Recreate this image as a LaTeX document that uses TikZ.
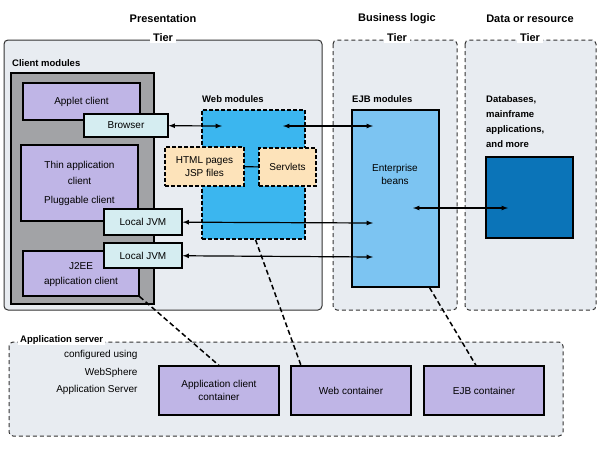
\documentclass[tikz,border=0pt]{standalone}
\usepackage{fontspec}
\setmainfont{Liberation Sans}
\usetikzlibrary{positioning, arrows}
\definecolor{tierbg}{HTML}{E8ECF1}
\definecolor{clientgray}{HTML}{A2A3A6}
\definecolor{modpurple}{HTML}{BFB5E6}
\definecolor{jvmblue}{HTML}{D5EDF1}
\definecolor{webblue}{HTML}{3BB6EF}
\definecolor{ejbblue}{HTML}{7CC4F2}
\definecolor{pagebeige}{HTML}{FDE3BA}
\definecolor{datablue}{HTML}{0B74B8}
\tikzset{
  tier/.style={draw=black!80, fill=tierbg, rounded corners=4pt, line width=1pt},
  dtier/.style={tier, dash pattern=on 4pt off 3pt},
  title/.style={font=\bfseries\fontsize{11}{12}\selectfont, align=center},
  lbl/.style={font=\bfseries\fontsize{9.5}{11}\selectfont, anchor=west, inner sep=0pt},
  txt/.style={font=\fontsize{10}{13}\selectfont, align=center},
  box/.style={draw, line width=1.1pt, txt},
  conn/.style={latex-latex, line width=1.2pt},
  link/.style={dash pattern=on 5pt off 3pt, line width=1.5pt}
}
\begin{document}
\begin{tikzpicture}[x=1pt, y=-1pt]
\useasboundingbox (0,0) rectangle (600,456);
% tiers
\draw[tier] (4,40) rectangle (322,310);
\draw[dtier] (333,40) rectangle (457,310);
\draw[dtier] (465,40) rectangle (596,310);
\node[title] (presTitle) at (163,19) {Presentation};
\node[title, fill=white, inner ysep=1pt] (presTier) at (163,38) {Tier};
\node[title] (busTitle) at (397,19) {Business logic};
\node[title, fill=white, inner ysep=1pt] (busTier) at (397,38) {Tier};
\node[title] (dataTitle) at (530,19) {Data or resource};
\node[title, fill=white, inner ysep=1pt] (dataTier) at (530,38) {Tier};

% client modules
\node[lbl] (clientLbl) at (12,63) {Client modules};
\draw[line width=1.2pt, fill=clientgray] (11,73) rectangle (154,304);
\node[box, fill=modpurple, minimum width=117pt, minimum height=37pt] (applet) at (81.5,101.5) {Applet client};
\node[box, fill=jvmblue, minimum width=84pt, minimum height=23pt] (browser) at (126,125.5) {Browser};
\node[box, fill=modpurple, minimum width=117pt, minimum height=76pt, align=center] (thin) at (79.5,183) {};
\node[txt, font=\fontsize{10}{16}\selectfont] (thinTxt) at (79.5,173) {Thin application\\client};
\node[txt] (plugTxt) at (79.5,201) {Pluggable client};
\node[box, fill=jvmblue, minimum width=78pt, minimum height=26pt] (jvmA) at (143,222) {Local JVM};
\node[box, fill=modpurple, minimum width=116pt, minimum height=45pt] (j2ee) at (81,273.5) {};
\node[txt, font=\fontsize{10}{15}\selectfont] (j2eeTxt) at (81,275) {J2EE\\application client};
\node[box, fill=jvmblue, minimum width=78pt, minimum height=25pt] (jvmB) at (143,255.5) {Local JVM};

% web modules
\node[lbl] (webLbl) at (202,99) {Web modules};
\node[draw, dash pattern=on 4pt off 2pt, line width=1.4pt, fill=webblue, minimum width=103pt, minimum height=129pt] (web) at (253.5,174.5) {};
\node[box, dash pattern=on 4pt off 2pt, fill=pagebeige, minimum width=79pt, minimum height=39pt] (pages) at (204.5,166.5) {HTML pages\\JSP files};
\node[box, dash pattern=on 4pt off 2pt, fill=pagebeige, minimum width=57pt, minimum height=38pt] (servlets) at (287.5,167) {Servlets};
\draw[line width=1.1pt] (pages) -- (servlets);

% ejb modules
\node[lbl] (ejbLbl) at (352,99) {EJB modules};
\node[box, fill=ejbblue, minimum width=87pt, minimum height=177pt] (ejb) at (395.5,198.5) {};
\node[txt] (beans) at (395,174) {Enterprise\\beans};

% data
\node[lbl, align=left, font=\bfseries\fontsize{9.5}{15}\selectfont] (dataLbl) at (486,122) {Databases,\\mainframe\\applications,\\and more};
\node[draw, line width=1.1pt, fill=datablue, minimum width=87pt, minimum height=81pt] (db) at (529.5,197.5) {};

% connectors
\coordinate (webIn) at (222,126);
\coordinate (webOut) at (283,126);
\coordinate (ejbTop) at (373,126);
\coordinate (ejbMid) at (373,223);
\coordinate (ejbLow) at (373,257);
\coordinate (ejbRight) at (413,208);
\coordinate (dbIn) at (508,208);
\draw[conn] (browser) -- (webIn);
\draw[conn] (webOut) -- (ejbTop);
\draw[conn] (jvmA) -- (ejbMid);
\draw[conn] (jvmB) -- (ejbLow);
\draw[conn] (ejbRight) -- (dbIn);

% application server
\draw[dtier] (9,342) rectangle (563,436);
\node[lbl, fill=white, inner xsep=2pt, inner ysep=1pt] (srvLbl) at (18,340) {Application server};
\node[txt, align=right, anchor=north east, font=\fontsize{10}{17.5}\selectfont] (srvTxt) at (141,347) {configured using\\WebSphere\\Application Server};
\node[box, fill=modpurple, minimum width=120pt, minimum height=49pt] (appCont) at (219,390.5) {Application client\\container};
\node[box, fill=modpurple, minimum width=120pt, minimum height=49pt] (webCont) at (351,390.5) {Web container};
\node[box, fill=modpurple, minimum width=120pt, minimum height=49pt] (ejbCont) at (484,390.5) {EJB container};

\draw[link] (j2ee.south east) -- (appCont.north);
\draw[link] ([xshift=2pt]web.south) -- ([xshift=-50pt]webCont.north);
\draw[link] ([xshift=34pt]ejb.south) -- ([xshift=-8pt]ejbCont.north);
\end{tikzpicture}
\end{document}
